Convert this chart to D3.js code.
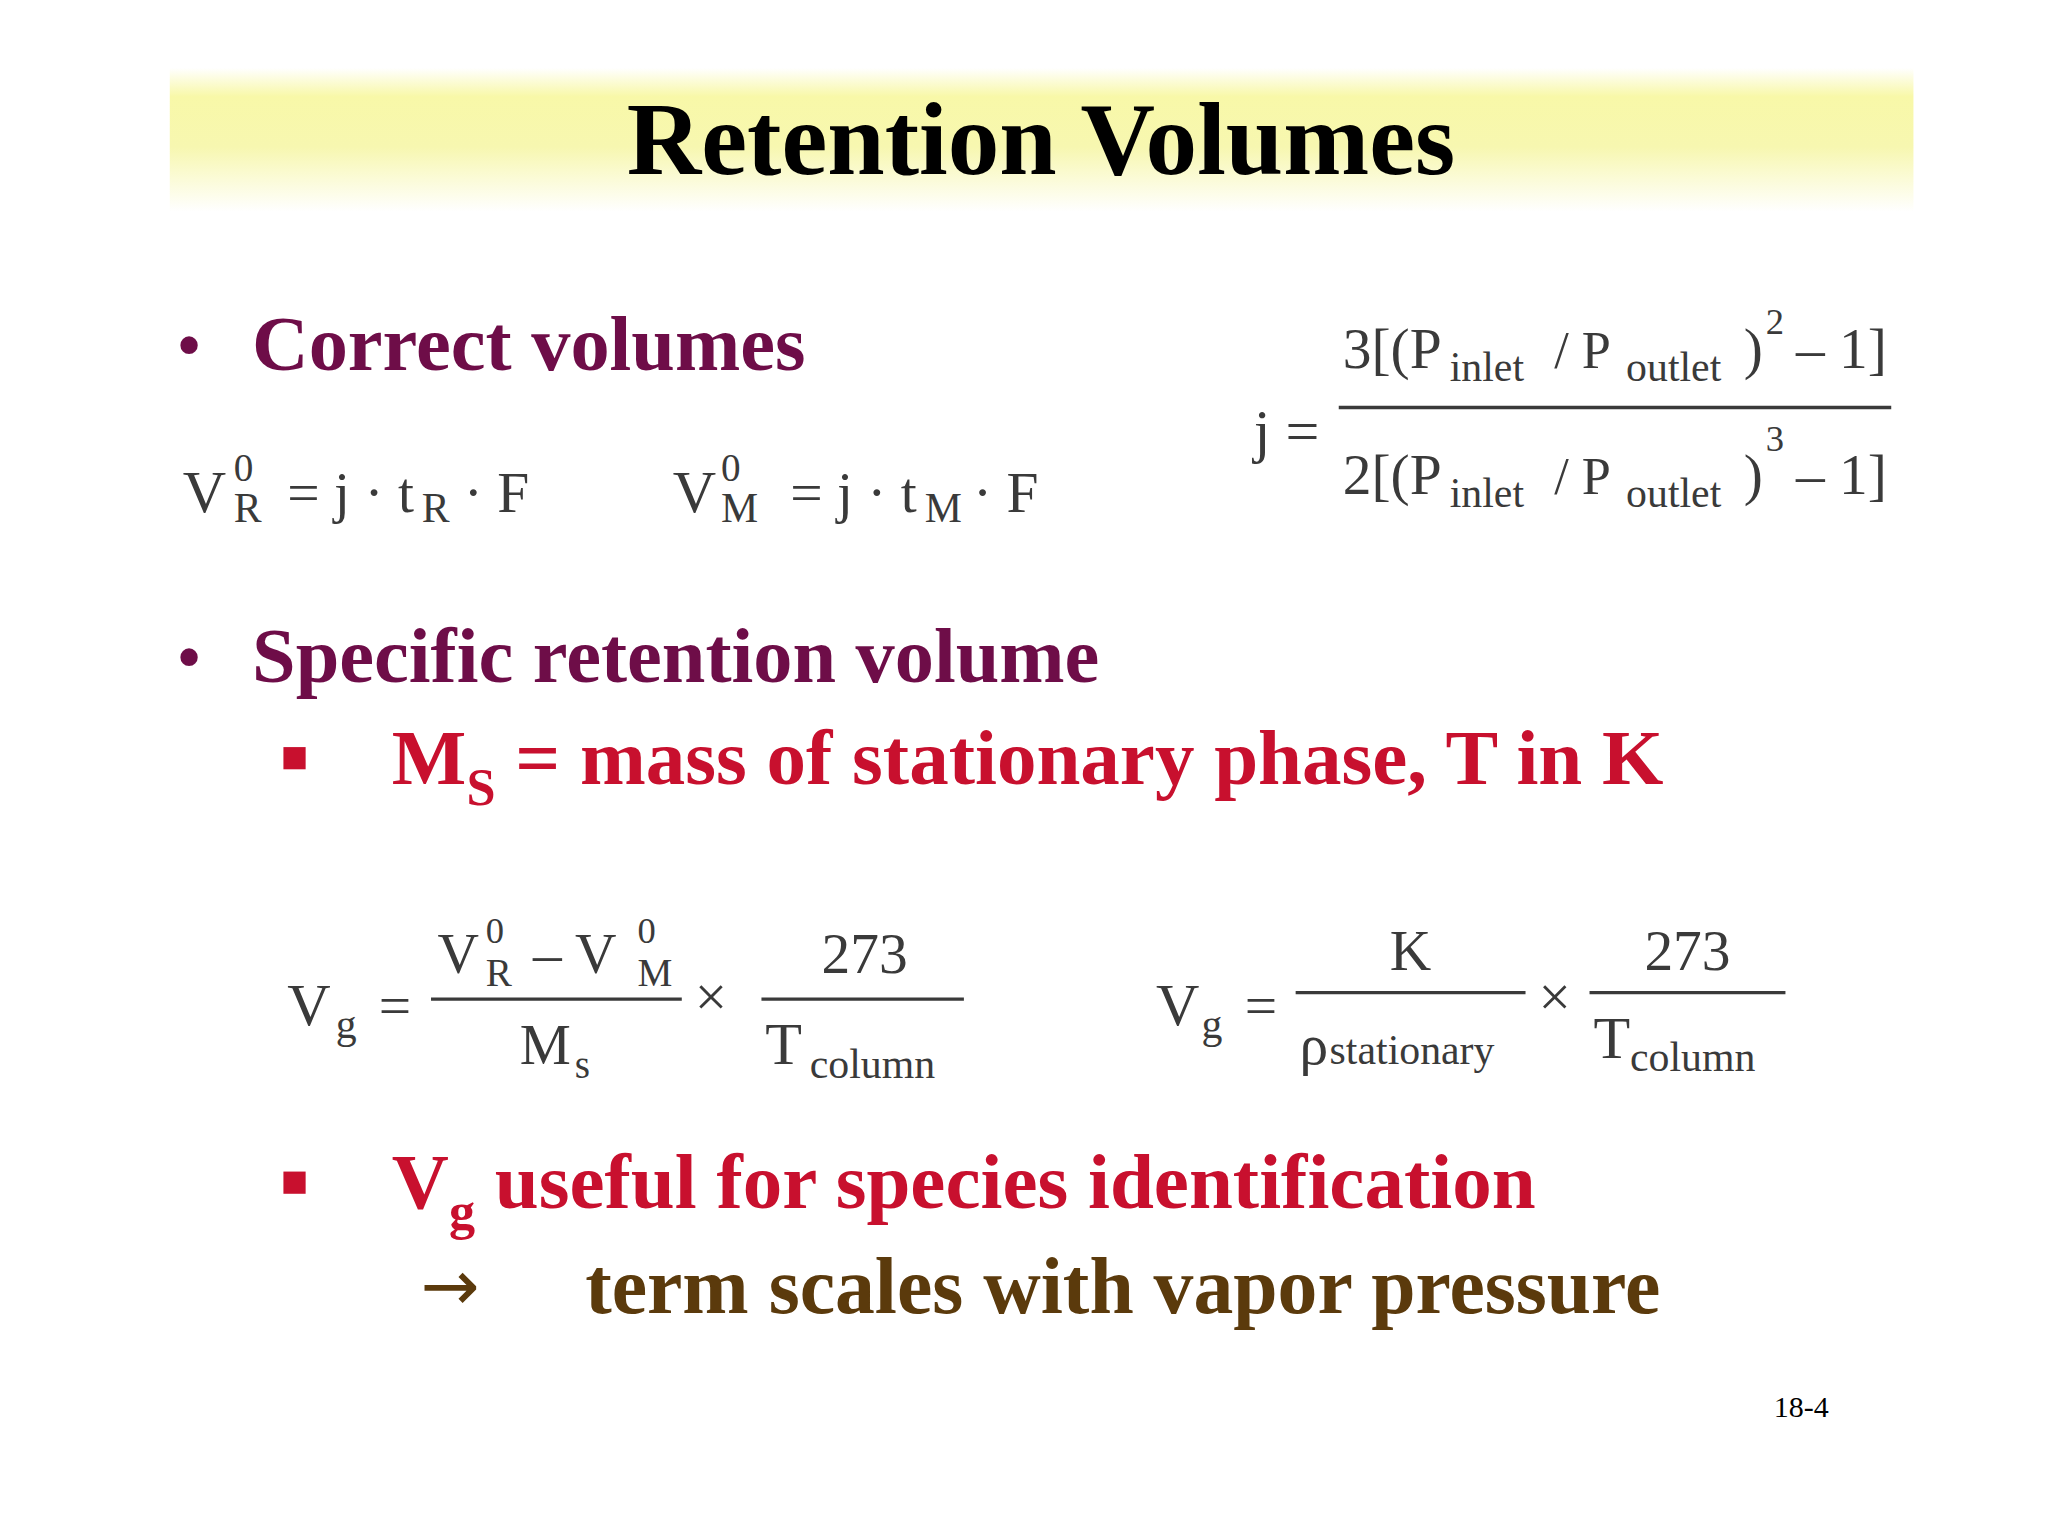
<!DOCTYPE html>
<html><head><meta charset="utf-8">
<script src="https://cdn.jsdelivr.net/npm/d3@7"></script>
<style>body{margin:0;background:#fff}</style></head>
<body><svg id="s" width="2048" height="1536"></svg>
<script>
const titleText = ["Retention Volumes"];
const bullets = [
  {sym:"•", text:"Correct volumes", level:0, color:"#6e0d48", y:283},
  {sym:"•", text:"Specific retention volume", level:0, color:"#6e0d48", y:522}
];
const subBullets = [
  {main:"M", sub:"S", rest:" = mass of stationary phase, T in K", y:600},
  {main:"V", sub:"g", rest:" useful for species identification", y:925}
];
const arrowLine = ["→", "term scales with vapor pressure"];
const pageLabel = ["18-4"];

const svg = d3.select("#s");
const defs = svg.append("defs");
const lg = defs.append("linearGradient").attr("id","band").attr("x1",0).attr("y1",0).attr("x2",0).attr("y2",1);
[[0,"#ffffff"],[0.2,"#f8f8a8"],[0.55,"#f7f7b0"],[1,"#ffffff"]].forEach(([o,c])=>lg.append("stop").attr("offset",o).attr("stop-color",c));
const g = svg.append("g").attr("transform","scale(1.3061)");
g.append("rect").attr("x",130).attr("y",52).attr("width",1335).attr("height",110).attr("fill","url(#band)");
g.append("text").data(titleText).attr("x",797).attr("y",133).attr("text-anchor","middle")
 .attr("font-family","Liberation Serif").attr("font-weight","bold").attr("font-size",79).text(d=>d);

bullets.forEach(b=>{
  g.append("text").attr("x",135).attr("y",b.y).attr("font-family","Liberation Serif").attr("font-size",56).attr("fill",b.color).text(b.sym);
  g.append("text").attr("x",193).attr("y",b.y).attr("font-family","Liberation Serif").attr("font-weight","bold").attr("font-size",60).attr("fill",b.color).text(b.text);
});
subBullets.forEach(b=>{
  g.append("rect").attr("x",217).attr("y",b.y-28).attr("width",17).attr("height",17).attr("fill","#c8102e");
  const t=g.append("text").attr("x",300).attr("y",b.y).attr("font-family","Liberation Serif").attr("font-weight","bold").attr("font-size",60.5).attr("fill","#c8102e");
  t.append("tspan").text(b.main);
  t.append("tspan").attr("dy",16).attr("font-size",40).text(b.sub);
  t.append("tspan").attr("dy",-16).text(b.rest);
});
g.append("text").attr("x",322).attr("y",1003).attr("font-family","DejaVu Sans").attr("font-size",54).attr("fill","#5b3a0c").text(arrowLine[0]);
g.append("text").attr("x",448).attr("y",1005).attr("font-family","Liberation Serif").attr("font-weight","bold").attr("font-size",61).attr("fill","#5b3a0c").text(arrowLine[1]);
g.append("text").attr("x",1358).attr("y",1085).attr("font-family","Liberation Serif").attr("font-size",23).text(pageLabel[0]);

const eqc="#3a3a3a", F="Liberation Serif";
function txt(x,y,s,size,anchor){return g.append("text").attr("x",x).attr("y",y).attr("font-family",F).attr("font-size",size||44).attr("fill",eqc).attr("text-anchor",anchor||"start").text(s);}
function line(x1,x2,y){g.append("line").attr("x1",x1).attr("x2",x2).attr("y1",y).attr("y2",y).attr("stroke",eqc).attr("stroke-width",2.5);}
txt(140,392,"V",46); txt(179,368,"0",30); txt(179,400,"R",32); txt(220,392,"= j · t",44); txt(323,400,"R",32); txt(355,392,"· F",44);
txt(515,392,"V",46); txt(552,368,"0",30); txt(552,400,"M",32); txt(605,392,"= j · t",44); txt(708,400,"M",32); txt(745,392,"· F",44);
txt(960,345,"j =",46); line(1025,1448,312);
txt(1028,282,"3[(P",44); txt(1110,292,"inlet",32); txt(1190,282,"/ P",40); txt(1245,292,"outlet",32); txt(1335,282,")",44); txt(1352,256,"2",28); txt(1375,282,"– 1]",44);
txt(1028,378,"2[(P",44); txt(1110,388,"inlet",32); txt(1190,378,"/ P",40); txt(1245,388,"outlet",32); txt(1335,378,")",44); txt(1352,345,"3",28); txt(1375,378,"– 1]",44);
txt(220,785,"V",46); txt(257,795,"g",32); txt(290,785,"=",44); line(330,522,765);
txt(335,745,"V",44); txt(372,722,"0",28); txt(372,755,"R",30); txt(408,745,"– V",44); txt(488,722,"0",28); txt(488,755,"M",30);
txt(398,815,"M",44); txt(440,825,"s",30); txt(532,778,"×",44);
line(583,738,765); txt(662,745,"273",44,"middle"); txt(586,815,"T",46); txt(620,825,"column",32);
txt(885,785,"V",46); txt(920,795,"g",32); txt(953,785,"=",44); line(992,1168,760);
txt(1080,743,"K",44,"middle"); txt(995,815,"ρ",44); txt(1018,815,"stationary",32); txt(1178,778,"×",44);
line(1217,1367,760); txt(1292,743,"273",44,"middle"); txt(1220,810,"T",46); txt(1248,820,"column",32);
</script></body></html>
